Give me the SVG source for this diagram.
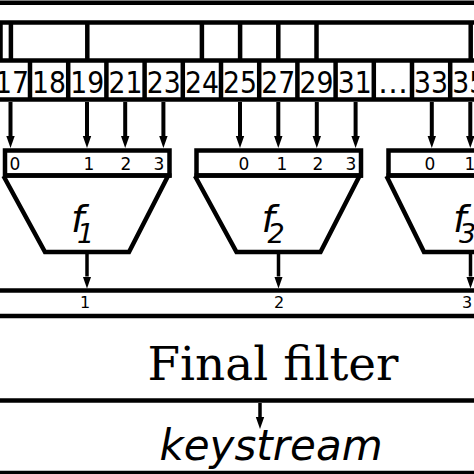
<svg xmlns="http://www.w3.org/2000/svg" width="474" height="474" viewBox="0 0 474 474">
<defs>
<style>
.ln{stroke:#000;fill:none;stroke-width:4.5}
.reg{font-family:"DejaVu Sans",sans-serif;font-size:30px;text-anchor:middle;fill:#000}
.lab{font-family:"DejaVu Sans",sans-serif;font-size:17px;text-anchor:middle;fill:#000}
.bus{font-family:"DejaVu Sans",sans-serif;font-size:16px;text-anchor:middle;fill:#000}
.fn{font-family:"DejaVu Sans",sans-serif;font-style:italic;fill:#000}
.arr{stroke:#000;stroke-width:4;fill:none;marker-end:url(#ah)}
.arr2{stroke:#000;stroke-width:3.5;fill:none;marker-end:url(#ah)}
</style>
<marker id="ah" markerUnits="userSpaceOnUse" markerWidth="14" markerHeight="10" viewBox="0 -5 14 10" refX="0" refY="0" orient="auto">
<path d="M0,-4.2 L12,0 L0,4.2 z" fill="#000"/>
</marker>
</defs>
<rect width="474" height="474" fill="#fff"/>

<g id="top-lines">
<line class="ln" x1="0" y1="2.8" x2="474" y2="2.8"/>
<line class="ln" x1="0" y1="22.5" x2="474" y2="22.5"/>
</g>

<g id="register">
<line class="ln" x1="0" y1="60.5" x2="474" y2="60.5"/>
<line class="ln" x1="0" y1="99.5" x2="474" y2="99.5"/>
<g class="ln">
<line x1="30" y1="60" x2="30" y2="100"/>
<line x1="68.2" y1="60" x2="68.2" y2="100"/>
<line x1="106.4" y1="60" x2="106.4" y2="100"/>
<line x1="144.6" y1="60" x2="144.6" y2="100"/>
<line x1="182.8" y1="60" x2="182.8" y2="100"/>
<line x1="221" y1="60" x2="221" y2="100"/>
<line x1="259.2" y1="60" x2="259.2" y2="100"/>
<line x1="297.4" y1="60" x2="297.4" y2="100"/>
<line x1="335.6" y1="60" x2="335.6" y2="100"/>
<line x1="373.8" y1="60" x2="373.8" y2="100"/>
<line x1="412" y1="60" x2="412" y2="100"/>
<line x1="450.2" y1="60" x2="450.2" y2="100"/>
</g>
<text class="reg" x="11.9" y="93" textLength="34" lengthAdjust="spacingAndGlyphs">17</text>
<text class="reg" x="49.1" y="93" textLength="34" lengthAdjust="spacingAndGlyphs">18</text>
<text class="reg" x="87.3" y="93" textLength="34" lengthAdjust="spacingAndGlyphs">19</text>
<text class="reg" x="125.5" y="93" textLength="34" lengthAdjust="spacingAndGlyphs">21</text>
<text class="reg" x="163.7" y="93" textLength="34" lengthAdjust="spacingAndGlyphs">23</text>
<text class="reg" x="201.9" y="93" textLength="34" lengthAdjust="spacingAndGlyphs">24</text>
<text class="reg" x="240.1" y="93" textLength="34" lengthAdjust="spacingAndGlyphs">25</text>
<text class="reg" x="278.3" y="93" textLength="34" lengthAdjust="spacingAndGlyphs">27</text>
<text class="reg" x="316.5" y="93" textLength="34" lengthAdjust="spacingAndGlyphs">29</text>
<text class="reg" x="354.7" y="93" textLength="34" lengthAdjust="spacingAndGlyphs">31</text>
<text class="reg" x="392.9" y="93">…</text>
<text class="reg" x="431.1" y="93" textLength="34" lengthAdjust="spacingAndGlyphs">33</text>
<text class="reg" x="469.3" y="93" textLength="34" lengthAdjust="spacingAndGlyphs">35</text>
</g>

<g id="f1">
<rect class="ln" x="5" y="150.5" width="164.5" height="25"/>
<line class="ln" x1="3" y1="175.5" x2="171.5" y2="175.5" stroke-width="6"/>
<polyline class="ln" points="3.5,176 45,252 129,252 168,176"/>
<text class="lab" x="15" y="169.5">0</text>
<text class="lab" x="89" y="169.5">1</text>
<text class="lab" x="126" y="169.5">2</text>
<text class="lab" x="159" y="169.5">3</text>
<text class="fn" x="71" y="232" font-size="38">f</text>
<text class="fn" x="77" y="242.5" font-size="27">1</text>
</g>

<g id="f2">
<rect class="ln" x="196.5" y="150.5" width="164.5" height="25"/>
<line class="ln" x1="194.5" y1="175.5" x2="363" y2="175.5" stroke-width="6"/>
<polyline class="ln" points="195,176 236.5,252 320.5,252 359.5,176"/>
<text class="lab" x="244" y="169.5">0</text>
<text class="lab" x="282" y="169.5">1</text>
<text class="lab" x="318" y="169.5">2</text>
<text class="lab" x="351" y="169.5">3</text>
<text class="fn" x="261.5" y="232" font-size="38">f</text>
<text class="fn" x="267.5" y="242.5" font-size="27">2</text>
</g>

<g id="f3">
<rect class="ln" x="388.5" y="150.5" width="164.5" height="25"/>
<line class="ln" x1="386.5" y1="175.5" x2="474" y2="175.5" stroke-width="6"/>
<polyline class="ln" points="386.5,176 424,252 520,252"/>
<text class="lab" x="430" y="169.5">0</text>
<text class="lab" x="470" y="169.5">1</text>
<text class="fn" x="453" y="232" font-size="38">f</text>
<text class="fn" x="459" y="242.5" font-size="27">3</text>
</g>

<g id="buses">
<line class="ln" x1="0" y1="290.5" x2="474" y2="290.5"/>
<line class="ln" x1="0" y1="316" x2="474" y2="316" stroke-width="5"/>
<text class="bus" x="85" y="308">1</text>
<text class="bus" x="279" y="308">2</text>
<text class="bus" x="467" y="308">3</text>
</g>

<g id="final-filter">
<text x="273" y="380" font-family="DejaVu Serif, serif" font-size="47" text-anchor="middle" textLength="251" lengthAdjust="spacingAndGlyphs">Final filter</text>
<line class="ln" x1="0" y1="400.5" x2="474" y2="400.5" stroke-width="5"/>
</g>

<g id="keystream">
<text x="271" y="460" font-family="DejaVu Sans, sans-serif" font-style="italic" font-size="42" text-anchor="middle">keystream</text>
<line class="ln" x1="0" y1="473" x2="474" y2="473" stroke-width="3"/>
</g>

<g id="connectors">
<g class="ln">
<line x1="0.5" y1="22" x2="0.5" y2="60"/>
<line x1="10.9" y1="22" x2="10.9" y2="60"/>
<line x1="87.3" y1="22" x2="87.3" y2="60"/>
<line x1="201.9" y1="22" x2="201.9" y2="60"/>
<line x1="240.1" y1="22" x2="240.1" y2="60"/>
<line x1="278.3" y1="22" x2="278.3" y2="60"/>
<line x1="316.5" y1="22" x2="316.5" y2="60"/>
<line x1="470.7" y1="22" x2="470.7" y2="60"/>
</g>
<path class="arr" d="M10.5,102 V136"/>
<path class="arr" d="M87,102 V136"/>
<path class="arr" d="M125.2,102 V136"/>
<path class="arr" d="M163.4,102 V136"/>
<path class="arr" d="M240,102 V136"/>
<path class="arr" d="M278.3,102 V136"/>
<path class="arr" d="M316.8,102 V136"/>
<path class="arr" d="M355.6,102 V136"/>
<path class="arr" d="M431.8,102 V136"/>
<path class="arr" d="M470.3,102 V136"/>
<path class="arr2" d="M87,254 V276.5"/>
<path class="arr2" d="M278.5,254 V276.5"/>
<path class="arr2" d="M470.5,254 V276.5"/>
<path class="arr2" d="M260,403 V417"/>
</g>
</svg>
